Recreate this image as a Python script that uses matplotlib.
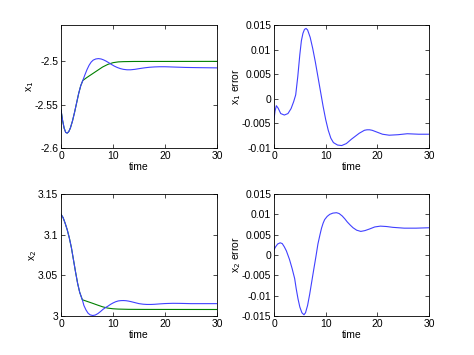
import matplotlib
matplotlib.use("Agg")
import matplotlib.pyplot as plt

plt.rcParams['font.family'] = ['Liberation Sans', 'DejaVu Sans']
plt.rcParams['axes.unicode_minus'] = False

# x1: estimate (green) and actual (blue)
t_x1_green = [0, 0.3, 0.6, 0.9, 1.2, 1.5, 1.8, 2.2, 2.6, 3.0, 3.4, 3.8, 4.2,
              5.0, 6.0, 7.0, 8.0, 9.0, 10.0, 11.0, 12.0, 14.0, 30.0]
x1_green = [-2.556, -2.568, -2.577, -2.582, -2.5828, -2.581, -2.577, -2.569, -2.559, -2.548,
            -2.537, -2.528, -2.522, -2.5185, -2.5145, -2.5105, -2.5065, -2.5035, -2.5015,
            -2.5006, -2.5003, -2.5001, -2.5]
t_x1_blue = [0, 0.3, 0.6, 0.9, 1.2, 1.5, 1.8, 2.2, 2.6, 3.0, 3.4, 3.8, 4.2, 4.6, 5.0, 5.4,
             5.8, 6.2, 6.7, 7.2, 7.7, 8.2, 8.7, 9.2, 9.7, 10.2, 10.8, 11.4, 12.0, 12.7, 13.4,
             14.2, 15.0, 16.0, 17.0, 18.0, 19.0, 20.0, 22.0, 24.0, 26.0, 30.0]
x1_blue = [-2.556, -2.568, -2.577, -2.582, -2.5828, -2.581, -2.577, -2.569, -2.559, -2.548,
           -2.537, -2.528, -2.522, -2.5155, -2.5095, -2.5045, -2.5008, -2.4985, -2.4972,
           -2.4968, -2.4972, -2.4983, -2.4998, -2.5016, -2.5035, -2.5053, -2.507, -2.5083,
           -2.5092, -2.5097, -2.5097, -2.5092, -2.5084, -2.5075, -2.5068, -2.5064, -2.5062,
           -2.5062, -2.5066, -2.507, -2.5072, -2.5075]

# x1 error
t_e1 = [0, 0.2, 0.45, 0.8, 1.3, 2.0, 2.7, 3.3, 3.8, 4.2, 4.6, 5.0, 5.3, 5.6, 5.9, 6.2, 6.5,
        7.0, 7.5, 8.0, 8.5, 9.0, 9.5, 10.0, 10.5, 11.0, 11.5, 12.3, 13.1, 14.0, 15.0, 16.0,
        16.5, 17.0, 17.5, 18.0, 18.5, 19.0, 20.0, 21.0, 22.3, 24.0, 25.8, 28.0, 30.0]
e1 = [-0.0042, -0.0025, -0.0014, -0.0019, -0.0030, -0.0033, -0.0030, -0.0020, -0.0006, 0.0008,
      0.0045, 0.0090, 0.0118, 0.0133, 0.0141, 0.0143, 0.0140, 0.0125, 0.0102, 0.0075, 0.0045,
      0.0015, -0.0015, -0.0042, -0.0064, -0.0080, -0.0089, -0.0094, -0.0095, -0.0091, -0.0082,
      -0.0074, -0.0070, -0.0067, -0.0064, -0.0063, -0.0063, -0.0064, -0.0068, -0.0072, -0.0074,
      -0.0073, -0.0071, -0.0072, -0.0072]

# x2: estimate (green) and actual (blue)
t_x2_green = [0, 0.4, 0.8, 1.2, 1.6, 2.0, 2.4, 2.8, 3.2, 3.6, 4.1,
              5.0, 6.0, 7.0, 8.0, 9.0, 10.0, 11.0, 13.0, 16.0, 30.0]
x2_green = [3.125, 3.121, 3.114, 3.106, 3.096, 3.084, 3.069, 3.054, 3.040, 3.029, 3.020,
            3.018, 3.0158, 3.0135, 3.0113, 3.0097, 3.0089, 3.0085, 3.0082, 3.0081, 3.008]
t_x2_blue = [0, 0.4, 0.8, 1.2, 1.6, 2.0, 2.4, 2.8, 3.2, 3.6, 4.1, 4.4, 4.8, 5.2, 5.6, 6.1,
             6.6, 7.1, 7.6, 8.1, 8.6, 9.0, 9.5, 10.0, 10.5, 11.0, 11.5, 12.0, 12.5, 13.0,
             13.5, 14.0, 14.5, 15.0, 15.8, 16.5, 17.3, 18.0, 19.0, 20.0, 21.5, 23.0, 25.0, 30.0]
x2_blue = [3.125, 3.121, 3.114, 3.106, 3.096, 3.084, 3.069, 3.054, 3.040, 3.029, 3.020,
           3.013, 3.0075, 3.0035, 3.0014, 3.0006, 3.0012, 3.0030, 3.0055, 3.0083, 3.0105,
           3.012, 3.0142, 3.016, 3.0175, 3.0185, 3.0189, 3.019, 3.0188, 3.0183, 3.0176,
           3.0168, 3.016, 3.0152, 3.0145, 3.0142, 3.0142, 3.0144, 3.0149, 3.0153, 3.0156,
           3.0155, 3.0152, 3.0152]

# x2 error
t_e2 = [0, 0.3, 0.7, 1.2, 1.6, 2.0, 2.4, 3.0, 3.5, 4.0, 4.3, 4.65, 5.0, 5.4, 5.8, 6.1, 6.5,
        6.9, 7.3, 7.7, 8.1, 8.5, 8.9, 9.2, 9.5, 9.8, 10.3, 10.8, 11.4, 12.1, 12.6, 13.2, 13.7,
        14.2, 14.8, 15.3, 16.0, 16.8, 17.6, 18.5, 19.5, 20.6, 21.8, 23.0, 25.2, 27.5, 30.0]
e2 = [0.0013, 0.0020, 0.0027, 0.0030, 0.0028, 0.0020, 0.0010, -0.0011, -0.0033, -0.0058,
      -0.0083, -0.0108, -0.0128, -0.0142, -0.0147, -0.0142, -0.0124, -0.0097, -0.0066, -0.0035,
      -0.0005, 0.0027, 0.0050, 0.0066, 0.0078, 0.0087, 0.0095, 0.0100, 0.0103, 0.0104, 0.0102,
      0.0096, 0.0089, 0.0081, 0.0073, 0.0067, 0.0061, 0.0058, 0.0060, 0.0064, 0.0069, 0.0071,
      0.0070, 0.0068, 0.0066, 0.0066, 0.0067]

green = (0, 0.5, 0)
blue = (0.25, 0.25, 1.0)
fs = 7.5
W, H = 474, 355

fig = plt.figure(figsize=(W / 100, H / 100), dpi=100)


def make_axes(l, t, r, b):
    return fig.add_axes([l / W, 1 - b / H, (r - l) / W, (b - t) / H])


def style(ax, ylabel, yticks, yticklabels, ylim):
    ax.set_xlim(0, 30)
    ax.set_ylim(*ylim)
    ax.set_xticks([0, 10, 20, 30])
    ax.set_yticks(yticks)
    ax.set_yticklabels(yticklabels)
    ax.tick_params(direction='in', top=True, right=True, labelsize=fs, length=3, width=0.5, pad=2)
    ax.set_xlabel('time', fontsize=fs, labelpad=1)
    ax.set_ylabel(ylabel, fontsize=fs, labelpad=-1)
    for s in ax.spines.values():
        s.set_linewidth(0.6)


ax1 = make_axes(61, 25, 217, 148)
ax1.plot(t_x1_green, x1_green, color=green, lw=0.8)
ax1.plot(t_x1_blue, x1_blue, color=blue, lw=0.8)
style(ax1, 'x$_1$', [-2.6, -2.55, -2.5], ['-2.6', '-2.55', '-2.5'], (-2.6, -2.458))

ax2 = make_axes(274, 25, 429, 148)
ax2.plot(t_e1, e1, color=blue, lw=0.8)
style(ax2, 'x$_1$ error', [-0.01, -0.005, 0, 0.005, 0.01, 0.015],
      ['-0.01', '-0.005', '0', '0.005', '0.01', '0.015'], (-0.01, 0.015))

ax3 = make_axes(61, 194, 217, 316)
ax3.plot(t_x2_green, x2_green, color=green, lw=0.8)
ax3.plot(t_x2_blue, x2_blue, color=blue, lw=0.8)
style(ax3, 'x$_2$', [3.0, 3.05, 3.1, 3.15], ['3', '3.05', '3.1', '3.15'], (3.0, 3.15))

ax4 = make_axes(274, 194, 429, 316)
ax4.plot(t_e2, e2, color=blue, lw=0.8)
style(ax4, 'x$_2$ error', [-0.015, -0.01, -0.005, 0, 0.005, 0.01, 0.015],
      ['-0.015', '-0.01', '-0.005', '0', '0.005', '0.01', '0.015'], (-0.015, 0.015))

fig.savefig('out.png', dpi=100)
